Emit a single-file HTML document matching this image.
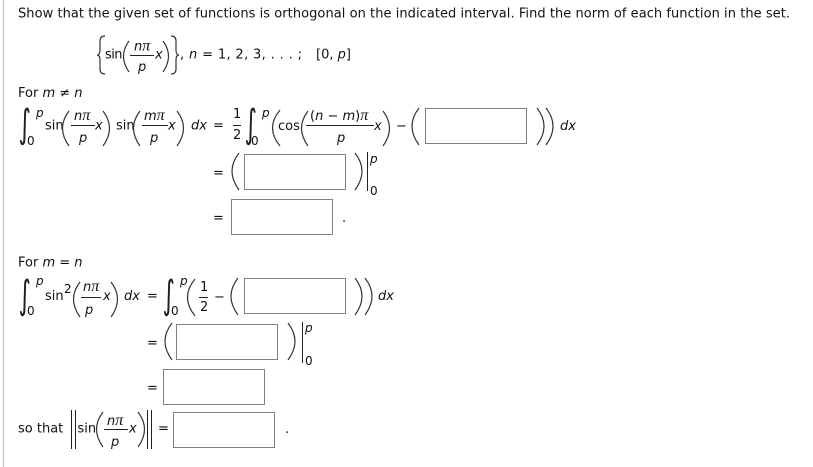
<!DOCTYPE html>
<html><head><meta charset="utf-8"><style>
html,body{margin:0;padding:0;background:#fff}
svg{display:block}
text{font-family:"DejaVu Sans","Liberation Sans",sans-serif;font-size:13px;fill:#111}
.i{font-style:italic}
.pi{font-family:"Liberation Serif",serif;font-style:italic;font-size:16px}
.s{font-size:12px}
.int{font-family:"DejaVu Sans",sans-serif;font-size:20px;fill:#222}
rect{fill:#fff;stroke:#808080;stroke-width:1}
.p{fill:none;stroke:#333;stroke-width:1.2}
.l{stroke:#222;stroke-width:1}
</style></head><body>
<svg width="813" height="467" viewBox="0 0 813 467" xmlns="http://www.w3.org/2000/svg">
<line x1="3.5" y1="0" x2="3.5" y2="467" stroke="#ccc" stroke-width="1.5"/>
<text x="18" y="17.5" textLength="772" lengthAdjust="spacing">Show that the given set of functions is orthogonal on the indicated interval. Find the norm of each function in the set.</text>

<!-- set -->
<path class="p" d="M105 36 Q100 36 100 41 V50 Q100 55 97 55 Q100 55 100 60 V69 Q100 74 105 74"/>
<text x="105" y="58.5" textLength="17.5">sin</text>
<path class="p" d="M129 41 Q118 56 129 72"/>
<text x="134" y="50.5" class="i">n<tspan class="pi">π</tspan></text>
<line class="l" x1="130" y1="55.5" x2="154" y2="55.5"/>
<text x="138" y="71" class="i">p</text>
<text x="155" y="58.5" class="i">x</text>
<path class="p" d="M163 41 Q174 56 163 72"/>
<path class="p" d="M171 36 Q176 36 176 41 V50 Q176 55 179 55 Q176 55 176 60 V69 Q176 74 171 74"/>
<text x="180" y="58.5" textLength="122" lengthAdjust="spacing">, <tspan class="i">n</tspan> = 1, 2, 3, . . . ;</text>
<text x="316" y="58.5">[0, <tspan class="i">p</tspan>]</text>

<text x="18" y="97">For <tspan class="i">m</tspan> ≠ <tspan class="i">n</tspan></text>

<!-- row 1 -->
<text class="int" transform="translate(18.5,137) scale(1.2,1.95)">∫</text>
<text x="36" y="117" class="i s">p</text>
<text x="27" y="145" class="s">0</text>
<text x="45" y="129.5">sin</text>
<path class="p" d="M69 111 Q56 128 69 146"/>
<text x="74" y="120" class="i">n<tspan class="pi">π</tspan></text>
<line class="l" x1="71" y1="125.5" x2="95" y2="125.5"/>
<text x="79" y="142" class="i">p</text>
<text x="95" y="129.5" class="i">x</text>
<path class="p" d="M103 111 Q116 128 103 146"/>
<text x="116" y="129.5">sin</text>
<path class="p" d="M140 111 Q127 128 140 146"/>
<text x="144" y="120" class="i">m<tspan class="pi">π</tspan></text>
<line class="l" x1="142" y1="125.5" x2="168" y2="125.5"/>
<text x="150" y="142" class="i">p</text>
<text x="168" y="129.5" class="i">x</text>
<path class="p" d="M177 111 Q190 128 177 146"/>
<text x="191" y="129.5" class="i">dx</text>
<text x="213" y="129.5">=</text>
<text x="233" y="118">1</text>
<line class="l" x1="233" y1="125.5" x2="241" y2="125.5"/>
<text x="233" y="139">2</text>
<text class="int" transform="translate(244.5,137) scale(1.2,1.95)">∫</text>
<text x="262" y="117" class="i s">p</text>
<text x="251" y="145" class="s">0</text>
<path class="p" d="M280 110 Q265 128 280 146"/>
<text x="278" y="130">cos</text>
<path class="p" d="M308 111 Q295 128 308 146"/>
<text x="310" y="120">(<tspan class="i">n</tspan> − <tspan class="i">m</tspan>)<tspan class="pi">π</tspan></text>
<line class="l" x1="306" y1="125.5" x2="374" y2="125.5"/>
<text x="337" y="142" class="i">p</text>
<text x="374" y="130" class="i">x</text>
<path class="p" d="M383 111 Q396 128 383 146"/>
<text x="396" y="130">−</text>
<path class="p" d="M419 108 Q405 126 419 145"/>
<rect x="425.5" y="108.5" width="101" height="35"/>
<path class="p" d="M537 108 Q551 126 537 145"/>
<path class="p" d="M546 108 Q560 126 546 145"/>
<text x="560" y="130" class="i">dx</text>

<!-- row 2 -->
<text x="213" y="177">=</text>
<path class="p" d="M239 153 Q225 171 239 190"/>
<rect x="244.5" y="154.5" width="101" height="35"/>
<path class="p" d="M355 153 Q369 171 355 190"/>
<line class="l" x1="367.5" y1="152" x2="367.5" y2="191"/>
<text x="370" y="163" class="i s">p</text>
<text x="370" y="195" class="s">0</text>

<!-- row 3 -->
<text x="213" y="222">=</text>
<rect x="231.5" y="199.5" width="101" height="35"/>
<text x="342" y="222">.</text>

<text x="18" y="266.5">For <tspan class="i">m</tspan> = <tspan class="i">n</tspan></text>

<!-- row 4 -->
<text class="int" transform="translate(18.5,308) scale(1.2,1.95)">∫</text>
<text x="36" y="285" class="i s">p</text>
<text x="27" y="315" class="s">0</text>
<text x="45" y="300">sin</text>
<text x="64" y="293" class="s">2</text>
<path class="p" d="M80 282 Q67 299 80 317"/>
<text x="83" y="291" class="i">n<tspan class="pi">π</tspan></text>
<line class="l" x1="81" y1="297.5" x2="101" y2="297.5"/>
<text x="85" y="314" class="i">p</text>
<text x="103" y="300" class="i">x</text>
<path class="p" d="M111 282 Q124 299 111 317"/>
<text x="124" y="300" class="i">dx</text>
<text x="147" y="300">=</text>
<text class="int" transform="translate(162.5,308) scale(1.2,1.95)">∫</text>
<text x="180" y="285" class="i s">p</text>
<text x="171" y="315" class="s">0</text>
<path class="p" d="M195 279 Q180 297 195 316"/>
<text x="200" y="291">1</text>
<line class="l" x1="199" y1="297.5" x2="208" y2="297.5"/>
<text x="200" y="311">2</text>
<text x="214" y="301">−</text>
<path class="p" d="M238 278 Q224 296 238 315"/>
<rect x="244.5" y="278.5" width="101" height="35"/>
<path class="p" d="M355 278 Q369 296 355 315"/>
<path class="p" d="M365 278 Q379 296 365 315"/>
<text x="378" y="300" class="i">dx</text>

<!-- row 5 -->
<text x="147" y="347">=</text>
<path class="p" d="M172 323 Q158 341 172 360"/>
<rect x="176.5" y="324.5" width="101" height="35"/>
<path class="p" d="M288 323 Q302 341 288 360"/>
<line class="l" x1="302.5" y1="322" x2="302.5" y2="363"/>
<text x="305" y="332" class="i s">p</text>
<text x="305" y="365" class="s">0</text>

<!-- row 6 -->
<text x="147" y="392">=</text>
<rect x="163.5" y="369.5" width="101" height="35"/>

<!-- row 7 -->
<text x="18" y="432.5">so that</text>
<line class="l" x1="71.5" y1="410" x2="71.5" y2="449"/>
<line class="l" x1="75.5" y1="410" x2="75.5" y2="449"/>
<text x="77.5" y="432.5">sin</text>
<path class="p" d="M103 412 Q90 429 103 447"/>
<text x="107" y="425" class="i">n<tspan class="pi">π</tspan></text>
<line class="l" x1="104" y1="429.5" x2="128" y2="429.5"/>
<text x="111" y="446" class="i">p</text>
<text x="129" y="432.5" class="i">x</text>
<path class="p" d="M138 412 Q151 429 138 447"/>
<line class="l" x1="147.5" y1="410" x2="147.5" y2="449"/>
<line class="l" x1="151.5" y1="410" x2="151.5" y2="449"/>
<text x="158" y="432.5">=</text>
<rect x="173.5" y="412.5" width="101" height="35"/>
<text x="285" y="433">.</text>
</svg>
</body></html>
